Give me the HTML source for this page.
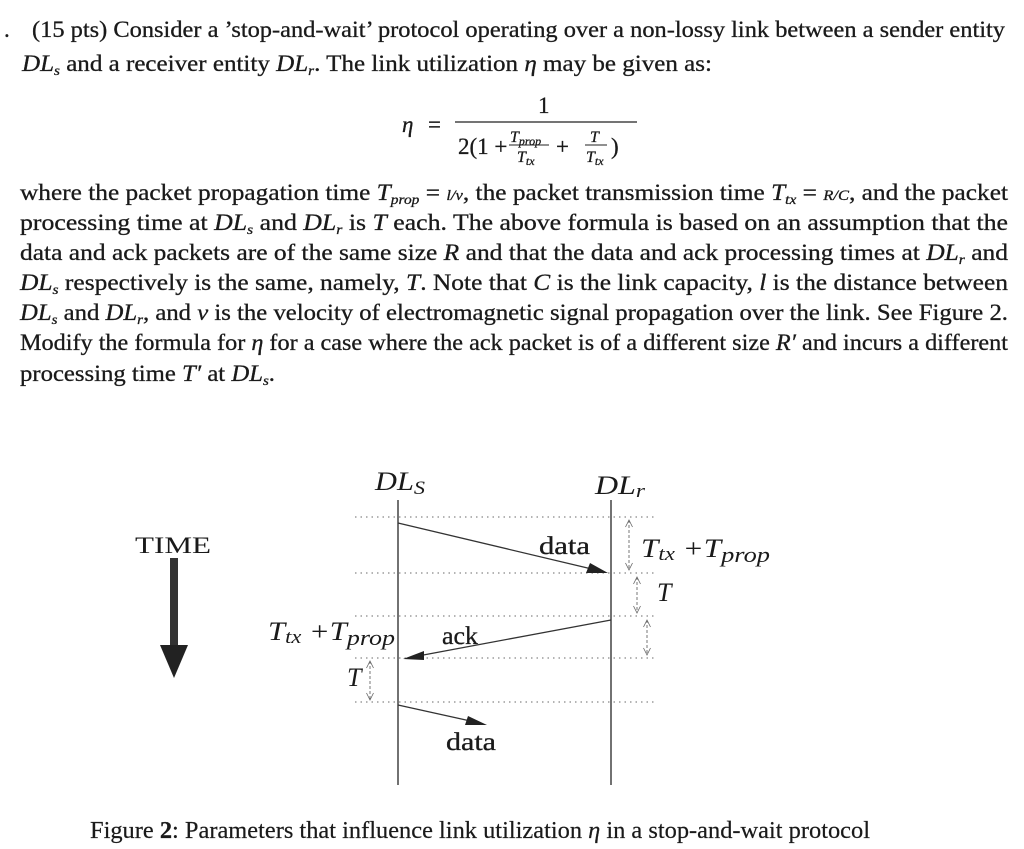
<!DOCTYPE html>
<html><head><meta charset="utf-8"><style>
html,body{margin:0;padding:0;background:#fff;}
svg{display:block;}
text{font-family:"Liberation Serif",serif;fill:#1a1a1a;}
.i{font-style:italic;}
</style></head><body>
<svg width="1024" height="849" viewBox="0 0 1024 849" xmlns="http://www.w3.org/2000/svg">
<defs>
<marker id="ahs" markerWidth="10" markerHeight="10" refX="9" refY="5" orient="auto-start-reverse" markerUnits="userSpaceOnUse"><path d="M2,1.5 L9,5 L2,8.5" fill="none" stroke="#666" stroke-width="0.8"/></marker>
</defs>
<g font-size="23" stroke="#1a1a1a" stroke-width="0.3">
<text x="4" y="37">.</text>
<text x="32" y="37" textLength="973" lengthAdjust="spacingAndGlyphs">(15 pts)  Consider a ’stop-and-wait’ protocol operating over a non-lossy link between a sender entity</text>
<text x="22" y="71" textLength="690" lengthAdjust="spacingAndGlyphs"><tspan class="i">DL</tspan><tspan class="i" font-size="14" dy="4">s</tspan><tspan dy="-4"> and a receiver entity </tspan><tspan class="i">DL</tspan><tspan class="i" font-size="14" dy="4">r</tspan><tspan dy="-4">. The link utilization </tspan><tspan class="i">η</tspan> may be given as:</text>
<!-- formula -->
<text x="538" y="113">1</text>
<text x="402" y="132" class="i">η</text>
<text x="428" y="132">=</text>
<line x1="455" y1="122" x2="637" y2="122" stroke="#222" stroke-width="1.3"/>
<text x="458" y="154">2(1 +</text>
<text x="510" y="142" class="i" font-size="16">T<tspan font-size="12" dy="3">prop</tspan></text>
<line x1="509" y1="145" x2="549" y2="145" stroke="#222" stroke-width="1"/>
<text x="517" y="162" class="i" font-size="16">T<tspan font-size="12" dy="3">tx</tspan></text>
<text x="556" y="154">+</text>
<text x="590" y="142" class="i" font-size="16">T</text>
<line x1="585" y1="145" x2="607" y2="145" stroke="#222" stroke-width="1"/>
<text x="586" y="162" class="i" font-size="16">T<tspan font-size="12" dy="3">tx</tspan></text>
<text x="611" y="154">)</text>
<!-- paragraph -->
<text x="20" y="200" textLength="988" lengthAdjust="spacingAndGlyphs">where the packet propagation time <tspan class="i">T</tspan><tspan class="i" font-size="14" dy="4">prop</tspan><tspan dy="-4"> = </tspan><tspan font-size="15" class="i">l/v</tspan>, the packet transmission time <tspan class="i">T</tspan><tspan class="i" font-size="14" dy="4">tx</tspan><tspan dy="-4"> = </tspan><tspan font-size="15" class="i">R/C</tspan>, and the packet</text>
<text x="20" y="230" textLength="988" lengthAdjust="spacingAndGlyphs">processing time at <tspan class="i">DL</tspan><tspan class="i" font-size="14" dy="4">s</tspan><tspan dy="-4"> and </tspan><tspan class="i">DL</tspan><tspan class="i" font-size="14" dy="4">r</tspan><tspan dy="-4"> is </tspan><tspan class="i">T</tspan> each.  The above formula is based on an assumption that the</text>
<text x="20" y="260" textLength="988" lengthAdjust="spacingAndGlyphs">data and ack packets are of the same size <tspan class="i">R</tspan> and that the data and ack processing times at <tspan class="i">DL</tspan><tspan class="i" font-size="14" dy="4">r</tspan><tspan dy="-4"> and</tspan></text>
<text x="20" y="290" textLength="988" lengthAdjust="spacingAndGlyphs"><tspan class="i">DL</tspan><tspan class="i" font-size="14" dy="4">s</tspan><tspan dy="-4"> respectively is the same, namely, </tspan><tspan class="i">T</tspan>.  Note that <tspan class="i">C</tspan> is the link capacity, <tspan class="i">l</tspan> is the distance between</text>
<text x="20" y="320" textLength="988" lengthAdjust="spacingAndGlyphs"><tspan class="i">DL</tspan><tspan class="i" font-size="14" dy="4">s</tspan><tspan dy="-4"> and </tspan><tspan class="i">DL</tspan><tspan class="i" font-size="14" dy="4">r</tspan><tspan dy="-4">, and </tspan><tspan class="i">v</tspan> is the velocity of electromagnetic signal propagation over the link.  See Figure 2.</text>
<text x="20" y="350" textLength="988" lengthAdjust="spacingAndGlyphs">Modify the formula for <tspan class="i">η</tspan> for a case where the ack packet is of a different size <tspan class="i">R′</tspan> and incurs a different</text>
<text x="20" y="381" textLength="255" lengthAdjust="spacingAndGlyphs">processing time <tspan class="i">T′</tspan> at <tspan class="i">DL</tspan><tspan class="i" font-size="14" dy="4">s</tspan><tspan dy="-4">.</tspan></text>
</g>
<!-- diagram -->
<g>
<text x="375" y="490" class="i" font-size="26" textLength="50" lengthAdjust="spacingAndGlyphs">DL<tspan font-size="19" dy="4">S</tspan></text>
<text x="595" y="494" class="i" font-size="26" textLength="50" lengthAdjust="spacingAndGlyphs">DL<tspan font-size="19" dy="3">r</tspan></text>
<g stroke="#888" stroke-width="1.3" stroke-dasharray="1.5,4">
<line x1="355" y1="517" x2="656" y2="517"/>
<line x1="355" y1="573" x2="656" y2="573"/>
<line x1="355" y1="616" x2="656" y2="616"/>
<line x1="355" y1="658" x2="656" y2="658"/>
<line x1="355" y1="702" x2="656" y2="702"/>
</g>
<line x1="398" y1="500" x2="398" y2="785" stroke="#444" stroke-width="1.5"/>
<line x1="611" y1="500" x2="611" y2="785" stroke="#444" stroke-width="1.5"/>
<line x1="398" y1="523" x2="596" y2="570" stroke="#333" stroke-width="1.3"/>
<path d="M608,573 L586,573 L590,563 Z" fill="#222"/>
<line x1="611" y1="620" x2="418" y2="656" stroke="#333" stroke-width="1.3"/>
<path d="M403,659 L424,651 L424,660 Z" fill="#222"/>
<line x1="398" y1="705" x2="475" y2="722" stroke="#333" stroke-width="1.3"/>
<path d="M487,725 L465,725 L468,716 Z" fill="#222"/>
<g font-size="25" stroke="#1a1a1a" stroke-width="0.3">
<text x="539" y="554" textLength="51" lengthAdjust="spacingAndGlyphs">data</text>
<text x="442" y="644" textLength="36" lengthAdjust="spacingAndGlyphs">ack</text>
<text x="446" y="750" textLength="50" lengthAdjust="spacingAndGlyphs">data</text>
</g>
<g stroke="#777" stroke-width="1" stroke-dasharray="3,2" fill="none">
<line x1="629" y1="520" x2="629" y2="570" marker-start="url(#ahs)" marker-end="url(#ahs)"/>
<line x1="637" y1="577" x2="637" y2="613" marker-start="url(#ahs)" marker-end="url(#ahs)"/>
<line x1="647" y1="620" x2="647" y2="655" marker-start="url(#ahs)" marker-end="url(#ahs)"/>
<line x1="370" y1="661" x2="370" y2="700" marker-start="url(#ahs)" marker-end="url(#ahs)"/>
</g>
<text x="641" y="557" class="i" font-size="26" textLength="129" lengthAdjust="spacingAndGlyphs">T<tspan font-size="19" dy="3">tx</tspan><tspan dy="-3"> +T</tspan><tspan font-size="22" dy="5">prop</tspan></text>
<text x="657" y="601" class="i" font-size="26">T</text>
<text x="268" y="640" class="i" font-size="26" textLength="127" lengthAdjust="spacingAndGlyphs">T<tspan font-size="19" dy="3">tx</tspan><tspan dy="-3"> +T</tspan><tspan font-size="22" dy="5">prop</tspan></text>
<text x="347" y="686" class="i" font-size="26">T</text>
<text x="135" y="553" font-size="23" textLength="76" lengthAdjust="spacingAndGlyphs">TIME</text>
<rect x="170" y="558" width="8" height="90" fill="#333"/>
<path d="M160,645 L188,645 L174,678 Z" fill="#222"/>
<text x="90" y="838" font-size="24" stroke="#1a1a1a" stroke-width="0.2" textLength="780" lengthAdjust="spacingAndGlyphs">Figure <tspan font-weight="bold">2</tspan>: Parameters that influence link utilization <tspan class="i">η</tspan> in a stop-and-wait protocol</text>
</g>
</svg>
</body></html>
